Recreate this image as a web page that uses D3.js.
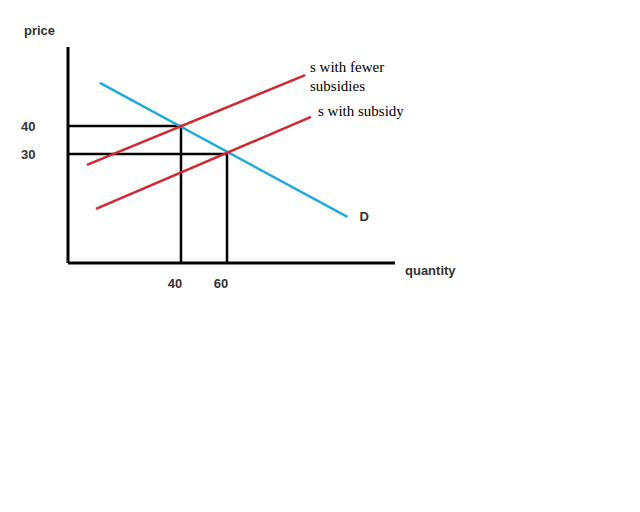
<!DOCTYPE html>
<html><head><meta charset="utf-8">
<script src="https://cdn.jsdelivr.net/npm/d3@7"></script>
<style>body{margin:0;background:#fff}</style></head>
<body><svg id="c" width="640" height="512"></svg>
<script>
const priceTicks = [30, 40];
const qtyTicks = [40, 60];
const demand = [[11.3, 61.8], [103, 12.7]];
const supplyFewer = [[6.7, 27], [87.9, 65.8]];
const supplySubsidy = [[9.9, 14.9], [90, 44.6]];
const equilibria = [[40, 40], [60, 30]];
const labels = {x: "quantity", y: "price", d: "D", s1: ["s with fewer", "subsidies"], s2: "s with subsidy"};

const svg = d3.select("#c");
const x = d3.scaleLinear().domain([0, 40, 60, 120]).range([68, 181, 227, 395]);
const y = d3.scaleLinear().domain([0, 30, 40, 80]).range([263, 154, 126, 47]);
const line = d3.line().x(d => x(d[0])).y(d => y(d[1]));

// axes
svg.append("line").attr("x1", x(0)).attr("x2", x(0)).attr("y1", y(80)).attr("y2", y(0)).attr("stroke", "#000").attr("stroke-width", 3);
svg.append("line").attr("x1", x(0)).attr("x2", x(120)).attr("y1", y(0)).attr("y2", y(0)).attr("stroke", "#000").attr("stroke-width", 3);

// guides
equilibria.forEach(([q, p]) => {
  svg.append("path").attr("d", line([[0, p], [q, p], [q, 0]])).attr("fill", "none").attr("stroke", "#000").attr("stroke-width", 2.5);
});

svg.append("path").attr("d", line(demand)).attr("stroke", "#22aad8").attr("stroke-width", 2.5).attr("fill", "none");
svg.append("path").attr("d", line(supplyFewer)).attr("stroke", "#d0282e").attr("stroke-width", 2.5).attr("fill", "none");
svg.append("path").attr("d", line(supplySubsidy)).attr("stroke", "#d0282e").attr("stroke-width", 2.5).attr("fill", "none");

const sans = "Arial, 'Liberation Sans', sans-serif";
const serif = "'Times New Roman', 'Liberation Serif', serif";
svg.append("text").attr("x", 24).attr("y", 35).text(labels.y).attr("font-family", sans).attr("font-weight", "bold").attr("font-size", 13).attr("fill", "#333");
svg.append("text").attr("x", 405).attr("y", 275).text(labels.x).attr("font-family", sans).attr("font-weight", "bold").attr("font-size", 13).attr("fill", "#333");
priceTicks.forEach(p => svg.append("text").attr("x", 21).attr("y", y(p) + 5).text(p).attr("font-family", sans).attr("font-weight", "bold").attr("font-size", 13).attr("fill", "#333"));
qtyTicks.forEach(q => svg.append("text").attr("x", x(q) - 6).attr("y", 288).attr("text-anchor", "middle").text(q).attr("font-family", sans).attr("font-weight", "bold").attr("font-size", 13).attr("fill", "#333"));
svg.append("text").attr("x", x(demand[1][0]) + 12).attr("y", y(demand[1][1]) + 4).text(labels.d).attr("font-family", sans).attr("font-weight", "bold").attr("font-size", 13).attr("fill", "#333");
svg.append("text").attr("x", 310).attr("y", 72).text(labels.s1[0]).attr("font-family", serif).attr("font-size", 15);
svg.append("text").attr("x", 310).attr("y", 91).text(labels.s1[1]).attr("font-family", serif).attr("font-size", 15);
svg.append("text").attr("x", 318).attr("y", 116).text(labels.s2).attr("font-family", serif).attr("font-size", 15);
</script></body></html>
